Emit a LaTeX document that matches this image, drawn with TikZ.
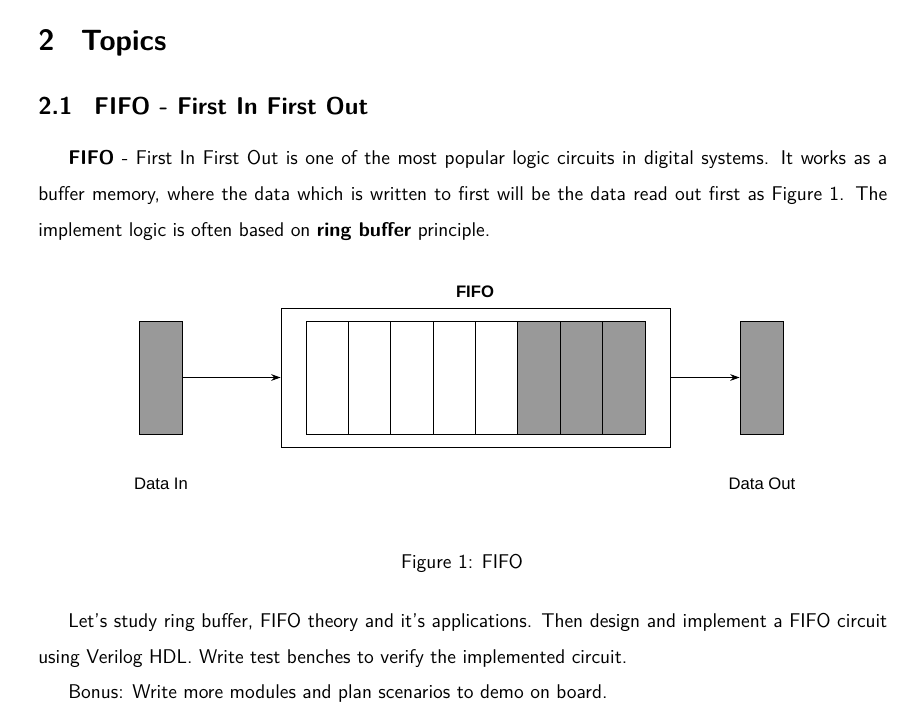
\documentclass[tikz,border=0pt]{standalone}
\usepackage{fontspec}
\usetikzlibrary{arrows.meta}
\newfontfamily\arial{Liberation Sans}
\begin{document}
\begin{tikzpicture}[x=0.75pt,y=-0.75pt,
  txt/.style={anchor=base west,inner sep=0,font=\sffamily\fontsize{14.9}{18}\selectfont},
  lbl/.style={inner sep=0,font=\arial\fontsize{12.5}{15}\selectfont},
  cell/.style={draw,line width=0.7pt},
  arr/.style={-{Stealth[length=7pt,width=5pt]},line width=0.7pt}]
\useasboundingbox (0,0) rectangle (923,718);
\node[anchor=base west,inner sep=0,font=\sffamily\bfseries\fontsize{22}{26}\selectfont] (h1) at (38,50) {2\hspace{0.9em}Topics};
\node[anchor=base west,inner sep=0,font=\sffamily\bfseries\fontsize{18.2}{22}\selectfont] (h2) at (38,114) {2.1\hspace{0.9em}FIFO - First In First Out};
\node[txt] (p1) at (68,164) {\makebox[819\dimexpr0.75pt][s]{\textbf{FIFO} - First In First Out is one of the most popular logic circuits in digital systems. It works as a}};
\node[txt] (p2) at (38,200) {\makebox[849\dimexpr0.75pt][s]{buffer memory, where the data which is written to first will be the data read out first as Figure 1. The}};
\node[txt] (p3) at (38,236) {implement logic is often based on \textbf{ring buffer} principle.};
% figure
\node[lbl,font=\arial\bfseries\fontsize{12.5}{15}\selectfont] (ft) at (475,292) {FIFO};
\node[cell,minimum width=389*0.75pt,minimum height=139*0.75pt,inner sep=0] (fifo) at (475.5,377.5) {};
\foreach \i in {0,...,7}{
  \pgfmathsetmacro\xa{306+\i*42.375}
  \ifnum\i>4 \def\fc{black!40}\else\def\fc{white}\fi
  \filldraw[cell,fill=\fc] (\xa,321) rectangle ++(42.375,113);
}
\node[cell,fill=black!40,minimum width=43*0.75pt,minimum height=113*0.75pt,inner sep=0] (din) at (160.5,377.5) {};
\node[cell,fill=black!40,minimum width=43*0.75pt,minimum height=113*0.75pt,inner sep=0] (dout) at (761.5,377.5) {};
\draw[arr] (din.east) -- (fifo.west);
\draw[arr] (fifo.east) -- (dout.west);
\node[lbl,anchor=base] (li) at (161,489) {Data In};
\node[lbl,anchor=base] (lo) at (762,489) {Data Out};
\node[txt,anchor=base] (cap) at (462,568) {Figure 1: FIFO};
\node[txt] (q1) at (68,627) {\makebox[819\dimexpr0.75pt][s]{Let's study ring buffer, FIFO theory and it's applications. Then design and implement a FIFO circuit}};
\node[txt] (q2) at (38,663) {using Verilog HDL. Write test benches to verify the implemented circuit.};
\node[txt] (q3) at (68,698) {Bonus: Write more modules and plan scenarios to demo on board.};
\end{tikzpicture}
\end{document}
